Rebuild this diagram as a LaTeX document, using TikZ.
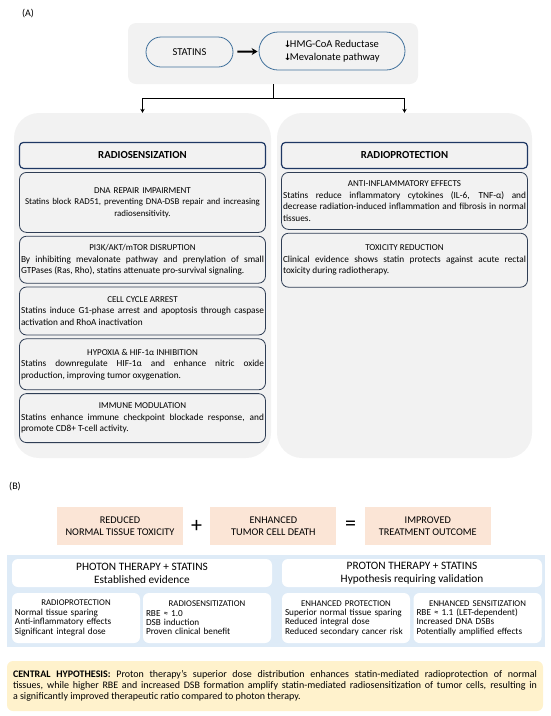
\documentclass[tikz,border=0pt]{standalone}
\usepackage{fontspec}
\setmainfont{Carlito}
\newfontfamily\symfont{DejaVu Sans}
\usepackage{tikz}
\usetikzlibrary{arrows.meta, positioning, calc}

\definecolor{panelgray}{HTML}{F2F2F2}
\definecolor{ovalblue}{HTML}{41719C}
\definecolor{headnavy}{HTML}{1F3864}
\definecolor{boxslate}{HTML}{2F3E55}
\definecolor{peach}{HTML}{FBE5D6}
\definecolor{paleblue}{HTML}{DEEBF7}
\definecolor{paleyellow}{HTML}{FFF2CC}
\setlength{\parindent}{0pt}
\hyphenpenalty=10000
\exhyphenpenalty=10000

\newcommand{\arrowdn}{{\symfont\bfseries\fontsize{9}{9}\selectfont\kern-0.5pt↓\kern-1.5pt}}
\newcommand{\efftitle}[1]{{\centering\fontsize{9}{11.5}\selectfont #1\par}}
\newcommand{\dettitle}[1]{{\centering\fontsize{8.8}{10}\selectfont #1\par}}

\begin{document}
\begin{tikzpicture}[x=1pt, y=-1pt,
    node distance=3pt,
    oval/.style={draw=ovalblue, line width=0.8pt, rounded corners=#1, font=\fontsize{10.5}{13}\selectfont},
    panel/.style={fill=panelgray, rounded corners=25pt, minimum width=#1, minimum height=345pt, inner sep=0pt},
    head/.style={draw=headnavy, line width=1.2pt, rounded corners=4pt, minimum width=246pt, minimum height=26pt, font=\fontsize{10.8}{13}\selectfont\bfseries},
    effect/.style={draw=boxslate, line width=0.8pt, rounded corners=7pt, text width=243pt, inner xsep=1.5pt, inner ysep=2pt, minimum height=#1, align=justify, font=\fontsize{9.3}{11.5}\selectfont},
    gain/.style={fill=peach, minimum width=126pt, minimum height=38pt, align=center, font=\fontsize{10.3}{12.5}\selectfont},
    sign/.style={font=\fontsize{22}{22}\selectfont, inner sep=0pt},
    arm/.style={fill=white, rounded corners=6pt, minimum width=260pt, minimum height=28pt, inner sep=1pt, align=center, font=\fontsize{11.3}{13}\selectfont},
    detail/.style={fill=white, rounded corners=6pt, minimum width=128pt, minimum height=50pt, text width=122pt, inner xsep=3pt, align=left, font=\fontsize{9.2}{9.4}\selectfont},
    link/.style={line width=0.9pt},
    split arrow/.style={line width=0.9pt, -{Stealth[length=4pt, width=4.5pt]}}
]
\useasboundingbox (0,0) rectangle (550,716);

% (A) statins and mechanisms
\node[font=\fontsize{10}{12}\selectfont] (lblA) at (28,14) {(A)};
\node[fill=panelgray, rounded corners=8pt, minimum width=290pt, minimum height=61pt] (topbg) at (273,53.5) {};
\node[oval=15pt, minimum width=87pt, minimum height=30pt] (statins) at (189.5,52) {STATINS};
\node[oval=19pt, minimum width=146pt, minimum height=38pt, align=left] (hmg) at (332,51) {\arrowdn HMG-CoA Reductase\\\arrowdn Mevalonate pathway};
\draw[line width=2pt, -{Stealth[length=6pt, width=7pt]}, shorten <=4pt, shorten >=1pt] (statins) -- (hmg);

\node[panel=257pt] (sens) at (142.5,285.5) {};
\node[panel=255pt] (prot) at (404.5,285.5) {};

\draw[link] (topbg.south) -- ++(0,14) coordinate (split);
\draw[split arrow] (split) -| (sens.north);
\draw[split arrow] (split) -| (prot.north);

\node[head, below=29pt of sens.north] (sensHead) {RADIOSENSIZATION};
\node[effect=60pt, below=of sensHead, align=center, font=\fontsize{8.9}{11.5}\selectfont] (dna) {\efftitle{DNA REPAIR IMPAIRMENT}Statins block RAD51, preventing DNA-DSB repair and increasing\\radiosensitivity.};
\node[effect=47pt, below=of dna] (pik) {\efftitle{PI3K/AKT/mTOR DISRUPTION}By inhibiting mevalonate pathway and prenylation of small\linebreak GTPases (Ras, Rho), statins attenuate pro-survival signaling.};
\node[effect=48pt, below=of pik] (cycle) {\efftitle{CELL CYCLE ARREST}Statins induce G1-phase arrest and apoptosis through caspase\linebreak activation and RhoA inactivation};
\node[effect=51pt, below=of cycle] (hypoxia) {\efftitle{HYPOXIA \& HIF-1α INHIBITION}Statins downregulate HIF-1α and enhance nitric oxide\linebreak production, improving tumor oxygenation.};
\node[effect=49pt, below=of hypoxia] (immune) {\efftitle{IMMUNE MODULATION}Statins enhance immune checkpoint blockade response, and\linebreak promote CD8+ T-cell activity.};

\node[head, below=29pt of prot.north] (protHead) {RADIOPROTECTION};
\node[effect=57pt, below=of protHead] (inflam) {\efftitle{ANTI-INFLAMMATORY EFFECTS}Statins reduce inflammatory cytokines (IL-6, TNF-α) and\linebreak decrease radiation-induced inflammation and fibrosis in normal\linebreak tissues.};
\node[effect=54pt, below=of inflam] (toxic) {\efftitle{TOXICITY REDUCTION}Clinical evidence shows statin protects against acute rectal\linebreak toxicity during radiotherapy.};

% (B) photon vs proton
\node[font=\fontsize{10}{12}\selectfont] (lblB) at (15,487) {(B)};
\node[gain] (reduced) at (120,526) {REDUCED\\NORMAL TISSUE TOXICITY};
\node[gain, right=27pt of reduced] (enhanced) {ENHANCED\\TUMOR CELL DEATH};
\node[gain, right=28pt of enhanced] (improved) {IMPROVED\\TREATMENT OUTCOME};
\node[sign] (plus) at ($(reduced.east)!0.5!(enhanced.west)$) {+};
\node[sign] (equals) at ($(enhanced.east)!0.5!(improved.west)$) {=};

\node[fill=paleblue, minimum width=538pt, minimum height=92pt] (evidence) at (276,601) {};
\node[arm] (photon) at (142,573) {PHOTON THERAPY + STATINS\\Established evidence};
\node[arm] (proton) at (412,573) {PROTON THERAPY + STATINS\\Hypothesis requiring validation};
\node[detail] (phProt) at (76,618) {\dettitle{RADIOPROTECTION}Normal tissue sparing\\Anti-inflammatory effects\\Significant integral dose};
\node[detail] (phSens) at (207,618) {\dettitle{RADIOSENSITIZATION}RBE ≈ 1.0\\DSB induction\\Proven clinical benefit};
\node[detail] (prProt) at (346,618) {\dettitle{ENHANCED PROTECTION}Superior normal tissue sparing\\Reduced integral dose\\Reduced secondary cancer risk};
\node[detail] (prSens) at (477.5,618) {\dettitle{ENHANCED SENSITIZATION}RBE ≈ 1.1 (LET-dependent)\\Increased DNA DSBs\\Potentially amplified effects};

\node[fill=paleyellow, rounded corners=6pt, minimum width=536pt, minimum height=50pt, text width=524pt, inner xsep=6pt, align=justify, font=\fontsize{10}{11}\selectfont] (central) at (275,686) {\textbf{CENTRAL HYPOTHESIS:} Proton therapy's superior dose distribution enhances statin-mediated radioprotection of normal\linebreak tissues, while higher RBE and increased DSB formation amplify statin-mediated radiosensitization of tumor cells, resulting in\linebreak a significantly improved therapeutic ratio compared to photon therapy.};

\end{tikzpicture}
\end{document}
